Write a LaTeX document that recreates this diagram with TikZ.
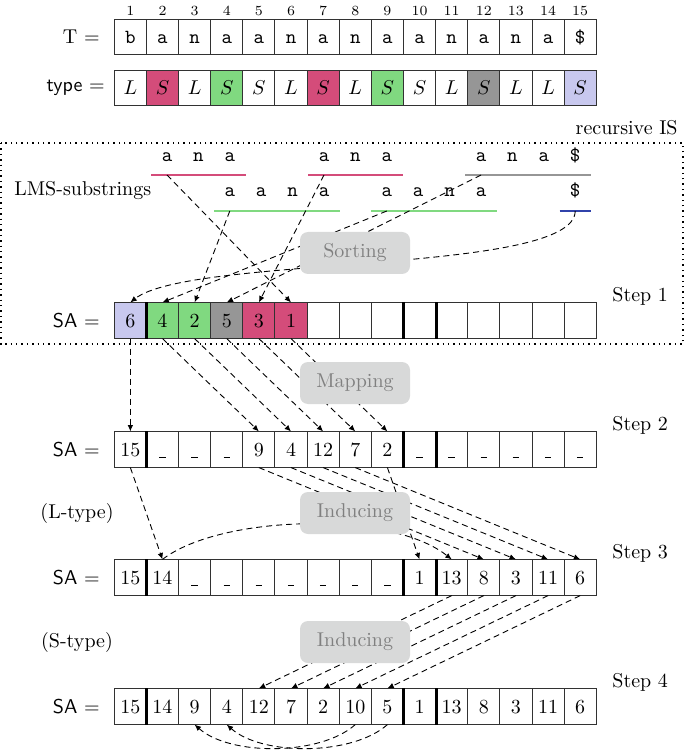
\documentclass[tikz,border=0pt]{standalone}
\usetikzlibrary{arrows.meta}
\definecolor{cred}{RGB}{212,76,122}
\definecolor{cgreen}{RGB}{128,217,128}
\definecolor{cgray}{RGB}{150,150,150}
\definecolor{cblue}{RGB}{200,200,238}
\definecolor{cdblue}{RGB}{48,66,170}
\definecolor{boxfill}{RGB}{216,217,217}
\definecolor{boxtext}{RGB}{128,128,128}
\definecolor{celldraw}{RGB}{50,50,50}
\newcommand{\blankmark}{\rule[-0.8pt]{3.2pt}{0.45pt}}
\begin{document}
\begin{tikzpicture}[x=0.5pt,y=-0.5pt,
  cell/.style={draw=celldraw,line width=0.5pt,minimum width=16.065pt,minimum height=17.6pt,inner sep=0pt,anchor=center,text height=6.6pt,text depth=0pt},
  idx/.style={font=\scriptsize,inner sep=0pt},
  lt/.style={inner sep=0pt,anchor=base},
  lbl/.style={inner sep=0pt},
  proc/.style={rounded corners=4pt,fill=boxfill,text=boxtext,minimum width=55pt,minimum height=21pt,inner sep=0pt},
  arr/.style={-{Latex[length=3.2pt,width=2.8pt]},dash pattern=on 3pt off 2pt,line width=0.45pt},
  sep/.style={line width=1.5pt},
  uline/.style={line width=1pt}]
\useasboundingbox (0,0) rectangle (685,753);

% T row with indices
\foreach \v [count=\i] in {b,a,n,a,a,n,a,n,a,a,n,a,n,a,\$} {
  \node[cell] (t\i) at ({114.3+32.13*(\i-0.5)},37) {\texttt{\v}};
  \node[idx] (n\i) at ({114.3+32.13*(\i-0.5)},11) {\i};
}
\node[lbl,anchor=east] (tlab) at (100,37) {T $=$};

% type row
\foreach \v/\c [count=\i] in {L/white,S/cred,L/white,S/cgreen,S/white,L/white,S/cred,L/white,S/cgreen,S/white,L/white,S/cgray,L/white,L/white,S/cblue}
  \node[cell,fill=\c] (ty\i) at ({114.3+32.13*(\i-0.5)},88) {$\v$};
\node[lbl,anchor=east] (tylab) at (105,88) {\textsf{type} $=$};

\node[lbl,anchor=east] (rec) at (678,128) {recursive IS};
\draw[dotted,line width=0.7pt] (1,143) rectangle (683,344);
\node[lbl,anchor=west] (lmslab) at (14,191) {LMS-substrings};

% LMS substrings
\foreach \p/\l in {2/a,3/n,4/a,7/a,8/n,9/a,12/a,13/n,14/a,15/\$}
  \node[lt] (ra\p) at ({104.2+31.4*\p},162) {\texttt{\l}};
\foreach \p/\l in {4/a,5/a,6/n,7/a,9/a,10/a,11/n,12/a,15/\$}
  \node[lt] (rb\p) at ({104.2+31.4*\p},197) {\texttt{\l}};
\draw[uline,cred] (151.3,175) -- (245.5,175);
\draw[uline,cred] (308.3,175) -- (402.5,175);
\draw[uline,cgray] (465.3,175) -- (590.9,175);
\draw[uline,cgreen] (214.1,211) -- (339.7,211);
\draw[uline,cgreen] (371.1,211) -- (496.7,211);
\draw[uline,cdblue] (559.5,211) -- (590.9,211);
\coordinate (lms1) at (167.0,175);
\coordinate (lms2) at (229.8,211);
\coordinate (lms3) at (324.0,175);
\coordinate (lms4) at (386.8,211);
\coordinate (lms5) at (481.0,175);
\coordinate (lms6) at (575.2,211);

% Step 1
\foreach \v/\c [count=\i] in {6/cblue,4/cgreen,2/cgreen,5/cgray,3/cred,1/cred,{}/white,{}/white,{}/white,{}/white,{}/white,{}/white,{}/white,{}/white,{}/white}
  \node[cell,fill=\c] (s1c\i) at ({114.3+32.13*(\i-0.5)},320.5) {\v};
% Step 2
\foreach \v [count=\i] in {15,\blankmark,\blankmark,\blankmark,9,4,12,7,2,\blankmark,\blankmark,\blankmark,\blankmark,\blankmark,\blankmark}
  \node[cell] (s2c\i) at ({114.3+32.13*(\i-0.5)},449.5) {\v};
% Step 3
\foreach \v [count=\i] in {15,14,\blankmark,\blankmark,\blankmark,\blankmark,\blankmark,\blankmark,\blankmark,1,13,8,3,11,6}
  \node[cell] (s3c\i) at ({114.3+32.13*(\i-0.5)},577.5) {\v};
% Step 4
\foreach \v [count=\i] in {15,14,9,4,12,7,2,10,5,1,13,8,3,11,6}
  \node[cell] (s4c\i) at ({114.3+32.13*(\i-0.5)},706.5) {\v};

\foreach \r in {s1,s2,s3,s4}
  \foreach \k in {1,9,10}
    \draw[sep] (\r c\k.north east) -- (\r c\k.south east);

\node[lbl,anchor=east] (sa1) at (100,320.5) {\textsf{SA} $=$};
\node[lbl,anchor=east] (sa2) at (100,449.5) {\textsf{SA} $=$};
\node[lbl,anchor=east] (sa3) at (100,577.5) {\textsf{SA} $=$};
\node[lbl,anchor=east] (sa4) at (100,706.5) {\textsf{SA} $=$};
\node[lbl,anchor=west] (st1) at (612,296) {Step 1};
\node[lbl,anchor=west] (st2) at (612,425) {Step 2};
\node[lbl,anchor=west] (st3) at (612,553) {Step 3};
\node[lbl,anchor=west] (st4) at (612,682) {Step 4};
\node[lbl] (ltype) at (77,513) {(L-type)};
\node[lbl] (stype) at (77,642) {(S-type)};

% connectors: sorting
\draw[arr] (lms1) -- (s1c6.north);
\draw[arr] (lms2) -- (s1c3.north);
\draw[arr] (lms3) -- (s1c5.north);
\draw[arr] (lms4) -- (s1c2.north);
\draw[arr] (lms5) -- (s1c4.north);
\draw[arr] (lms6) .. controls (575,275) and (190,255) .. (s1c1.north);
% mapping
\draw[arr] (s1c1.south) -- (s2c1.north);
\draw[arr] (s1c2.south) -- (s2c5.north);
\draw[arr] (s1c3.south) -- (s2c6.north);
\draw[arr] (s1c4.south) -- (s2c7.north);
\draw[arr] (s1c5.south) -- (s2c8.north);
\draw[arr] (s1c6.south) -- (s2c9.north);
% L-type inducing
\draw[arr] (s2c1.south) -- (s3c2.north);
\draw[arr] (s2c5.south) -- (s3c12.north);
\draw[arr] (s2c6.south) -- (s3c13.north);
\draw[arr] (s2c7.south) -- (s3c14.north);
\draw[arr] (s2c8.south) -- (s3c15.north);
\draw[arr] (s2c9.south) -- (s3c10.north);
\draw[arr] (s3c2.north) .. controls (220,515) and (390,510) .. (s3c11.north);
% S-type inducing
\draw[arr] (s3c11.south) -- (s4c5.north);
\draw[arr] (s3c12.south) -- (s4c6.north);
\draw[arr] (s3c13.south) -- (s4c7.north);
\draw[arr] (s3c14.south) -- (s4c8.north);
\draw[arr] (s3c15.south) -- (s4c9.north);
\draw[arr] (s4c8.south) .. controls (320,756) and (230,756) .. (s4c3.south);
\draw[arr] (s4c9.south) .. controls (352,756) and (262,756) .. (s4c4.south);

% process boxes
\node[proc] (sorting) at (355,253) {Sorting};
\node[proc] (mapping) at (355,383) {Mapping};
\node[proc] (induce1) at (355,513) {Inducing};
\node[proc] (induce2) at (355,642) {Inducing};
\end{tikzpicture}
\end{document}
